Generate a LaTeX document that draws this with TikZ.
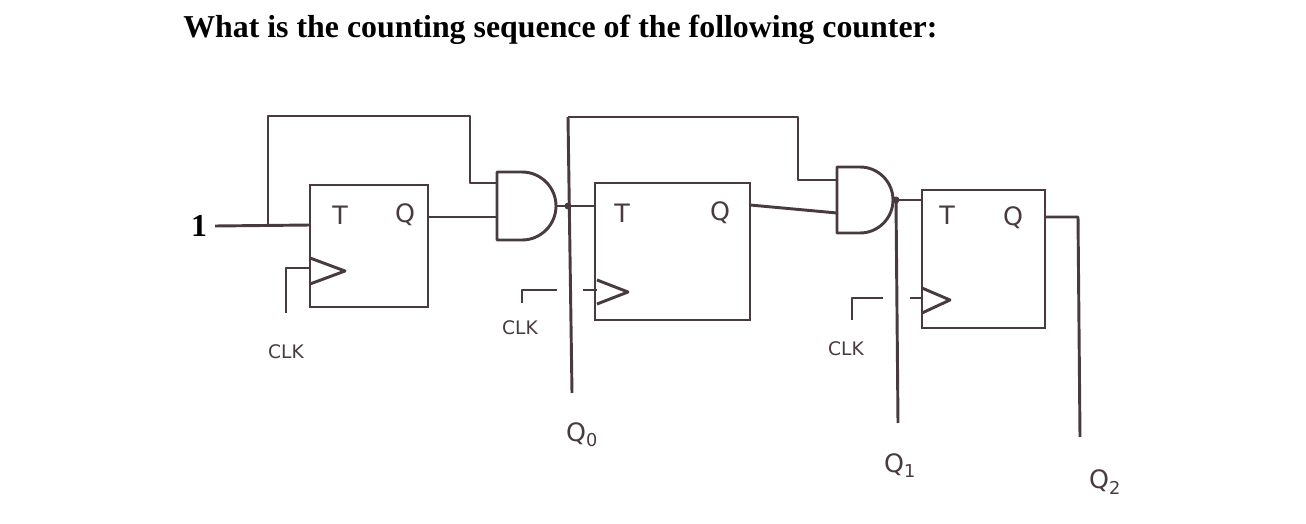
\documentclass[tikz,border=0pt]{standalone}
\usepackage{fontspec}
\setmainfont{Liberation Serif}
\newfontfamily\hand{DejaVu Sans}
\begin{document}
\definecolor{ink}{RGB}{72,58,64}
\begin{tikzpicture}[x=0.75pt,y=-0.75pt,
  wire/.style={draw=ink,line width=2.2pt,line join=round},
  ffbox/.style={draw=ink,line width=2.2pt},
  lbl/.style={text=ink,font=\hand\fontsize{19}{19}\selectfont,inner sep=0pt},
  hlbl/.style={text=ink,font=\hand\fontsize{14}{14}\selectfont,inner sep=0pt}]
\useasboundingbox (0,0) rectangle (1306,524);
\node[anchor=base west,font=\bfseries\fontsize{23.9}{24}\selectfont,inner sep=0pt] (title) at (183,38) {What is the counting sequence of the following counter:};
\node[font=\bfseries\fontsize{23.9}{24}\selectfont,inner sep=0pt] (one) at (199,226) {1};
% flip-flops
\draw[ffbox] (310,185) rectangle (428,307);
\draw[ffbox] (595,183) rectangle (750,320);
\draw[ffbox] (922,190) rectangle (1045,328);
\node[lbl] (t1) at (340,215) {T};
\node[lbl] (q1) at (405,215) {Q};
\node[lbl] (t2) at (622,213) {T};
\node[lbl] (q2) at (720,213) {Q};
\node[lbl] (t3) at (947,215) {T};
\node[lbl] (q3) at (1013,218) {Q};
% clock triangles
\draw[wire] (310,258) -- (345,271) -- (310,284);
\draw[wire] (597,280) -- (628,292) -- (597,304);
\draw[wire] (922,288) -- (950,300) -- (922,313);
% AND gates
\draw[wire] (497,172) -- (522,172) arc[start angle=-90,end angle=90,radius=34] -- (497,240) -- cycle;
\draw[wire] (837,167) -- (860,167) arc[start angle=-90,end angle=90,radius=33] -- (837,233) -- cycle;
% wiring
\coordinate (j0) at (268,225);
\draw[wire] (one.east) ++(8,0) -- (310,225);
\draw[wire] (j0) -- (268,116) -- (470,116) -- (470,183) -- (497,183);
\draw[wire] (428,217) -- (497,217);
\draw[wire] (556,206) -- (595,206);
\fill[ink] (568,206) circle (3.5);
\draw[wire] (568,117) -- (572,393);
\draw[wire] (568,117) -- (798,117) -- (798,180) -- (837,180);
\draw[wire] (750,205) -- (837,213);
\draw[wire] (893,200) -- (922,200);
\fill[ink] (896,200) circle (3.5);
\draw[wire] (896,200) -- (898,423);
\draw[wire] (1045,217) -- (1078,217) -- (1080,437);
% clocks
\draw[wire] (286,313) -- (286,268) -- (310,268);
\draw[wire] (522,303) -- (522,290) -- (557,290);
\draw[wire] (583,290) -- (597,290);
\draw[wire] (852,320) -- (852,298) -- (883,298);
\draw[wire] (910,298) -- (922,298);
\node[hlbl] (clk1) at (286,352) {CLK};
\node[hlbl] (clk2) at (520,328) {CLK};
\node[hlbl] (clk3) at (846,349) {CLK};
\node[lbl] (o0) at (582,435) {Q\textsubscript{0}};
\node[lbl] (o1) at (900,466) {Q\textsubscript{1}};
\node[lbl] (o2) at (1105,482) {Q\textsubscript{2}};
\end{tikzpicture}
\end{document}
